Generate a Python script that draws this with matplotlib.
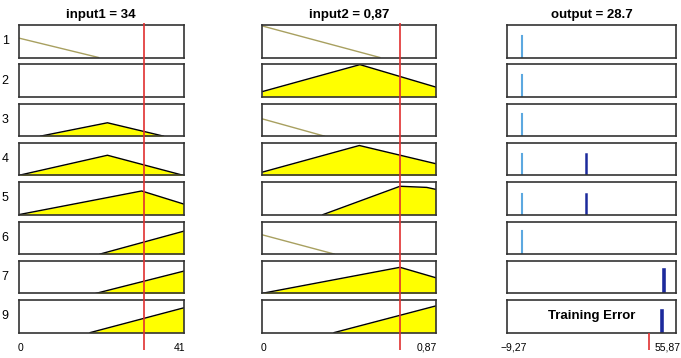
import matplotlib

matplotlib.use("Agg")
import matplotlib.pyplot as plt

plt.rcParams["font.family"] = ["Liberation Sans", "DejaVu Sans"]

# rule labels shown on the left
rule_labels = ["1", "2", "3", "4", "5", "6", "7", "9"]

# input 1: membership polylines per rule (x in 0..41, y in 0..1)
in1_range = (0, 41)
in1_cut = 31.2
in1_x = [[0, 19.9], [], [5.5, 22.1, 36.0], [0, 22.1, 41], [0, 30.6, 41],
         [20.3, 41], [19.3, 41], [17.8, 41]]
in1_y = [[0.6, 0], [], [0, 0.41, 0], [0, 0.62, 0], [0, 0.73, 0.33],
         [0, 0.70], [0, 0.68], [0, 0.76]]
in1_filled = [False, False, True, True, True, True, True, True]

# input 2
in2_range = (0, 0.87)
in2_cut = 0.692
in2_x = [[0, 0.59], [0, 0.49, 0.87], [0, 0.311], [0, 0.487, 0.87],
         [0.303, 0.691, 0.825, 0.87], [0, 0.36], [0, 0.691, 0.87], [0.36, 0.87]]
in2_y = [[0.97, 0], [0.16, 0.99, 0.30], [0.53, 0], [0.10, 0.92, 0.36],
         [0, 0.875, 0.84, 0.78], [0.59, 0], [0, 0.80, 0.48], [0, 0.82]]
in2_filled = [False, True, False, True, True, False, True, True]

# output: singleton spikes per rule
out_range = (-9.27, 55.87)
out_cut = 45.6
out_light_x = [-3.4, -3.4, -3.4, -3.4, -3.4, -3.4, None, None]
out_light_h = [0.65, 0.66, 0.68, 0.66, 0.65, 0.70, None, None]
out_dark_x = [None, None, None, 21.2, 21.2, None, 51.2, 50.6]
out_dark_h = [None, None, None, 0.66, 0.65, None, 0.72, 0.66]

titles = ["input1 = 34", "input2 = 0,87", "output = 28.7"]
range_labels = [("0", "41"), ("0", "0,87"), ("\u22129,27", "55,87")]

W, H = 681, 358
col_left = [18.5, 262.3, 507]
col_width = [165, 173.4, 169]
row_top0, row_step, row_h = 25, 39.3, 32.5
# horizontal nudges (points) of the range labels, left / right
label_shift = [(-0.5, 1.5), (-1, 1), (-4.5, 3)]

YELLOW = "#ffff00"
OLIVE = "#a8a060"
RED = "#e03030"
LIGHT = "#5ca8e0"
DARK = "#1c2a9c"
FRAME = "#333333"


def px_rect(left, top, width, height):
    return [left / W, 1 - (top + height) / H, width / W, height / H]


fig = plt.figure(figsize=(W / 100, H / 100), dpi=100)

ranges = [in1_range, in2_range, out_range]
cuts = [in1_cut, in2_cut, out_cut]
all_axes = []
for c in range(3):
    col_axes = []
    for r in range(len(rule_labels)):
        top = row_top0 + r * row_step
        ax = fig.add_axes(px_rect(col_left[c], top, col_width[c], row_h))
        ax.set_xlim(*ranges[c])
        ax.set_ylim(0, 1)
        ax.set_xticks([])
        ax.set_yticks([])
        for s in ax.spines.values():
            s.set_color(FRAME)
            s.set_linewidth(1.2)
        col_axes.append(ax)
    all_axes.append(col_axes)

# input columns
for c, (xs, ys, filled) in enumerate([(in1_x, in1_y, in1_filled),
                                      (in2_x, in2_y, in2_filled)]):
    for r, ax in enumerate(all_axes[c]):
        if not xs[r]:
            continue
        if filled[r]:
            ax.fill_between(xs[r], ys[r], 0, color=YELLOW, lw=0)
            ax.plot(xs[r], ys[r], color="black", lw=1.0)
        else:
            ax.plot(xs[r], ys[r], color=OLIVE, lw=1.0)

# output column
dark_lw = [1.8, 1.8, 1.8, 1.8, 1.8, 1.8, 2.6, 2.6]
for r, ax in enumerate(all_axes[2]):
    if out_light_x[r] is not None:
        ax.plot([out_light_x[r]] * 2, [0, out_light_h[r]], color=LIGHT, lw=1.5)
    if out_dark_x[r] is not None:
        ax.plot([out_dark_x[r]] * 2, [0, out_dark_h[r]], color=DARK, lw=dark_lw[r])
all_axes[2][-1].text(0.5, 0.5, "Training Error", transform=all_axes[2][-1].transAxes,
                     ha="center", va="center", fontsize=9.5, fontweight="bold")

# rule numbers
for r, ax in enumerate(all_axes[0]):
    ax.text(-0.08, 0.5, rule_labels[r], transform=ax.transAxes,
            ha="center", va="center", fontsize=9)

# titles and range labels
for c in range(3):
    top_ax = all_axes[c][0]
    top_ax.set_title(titles[c], fontsize=9.5, fontweight="bold", pad=5)
    bot = all_axes[c][-1]
    lo, hi = range_labels[c]
    dl, dr = label_shift[c]
    bot.annotate(lo, (ranges[c][0], -0.47), xycoords=bot.get_xaxis_transform(),
                 xytext=(dl, 0), textcoords="offset points",
                 ha="left", va="center", fontsize=7.5)
    bot.annotate(hi, (ranges[c][1], -0.47), xycoords=bot.get_xaxis_transform(),
                 xytext=(dr, 0), textcoords="offset points",
                 ha="right", va="center", fontsize=7.5)

# red cut lines (overlay axes spanning the column)
for c in range(3):
    top = 23 if c < 2 else 333
    ov = fig.add_axes(px_rect(col_left[c], top, col_width[c], 350 - top))
    ov.set_xlim(*ranges[c])
    ov.set_ylim(0, 1)
    ov.axis("off")
    ov.axvline(cuts[c], color=RED, lw=1.2)

fig.savefig("out.png", dpi=100)
